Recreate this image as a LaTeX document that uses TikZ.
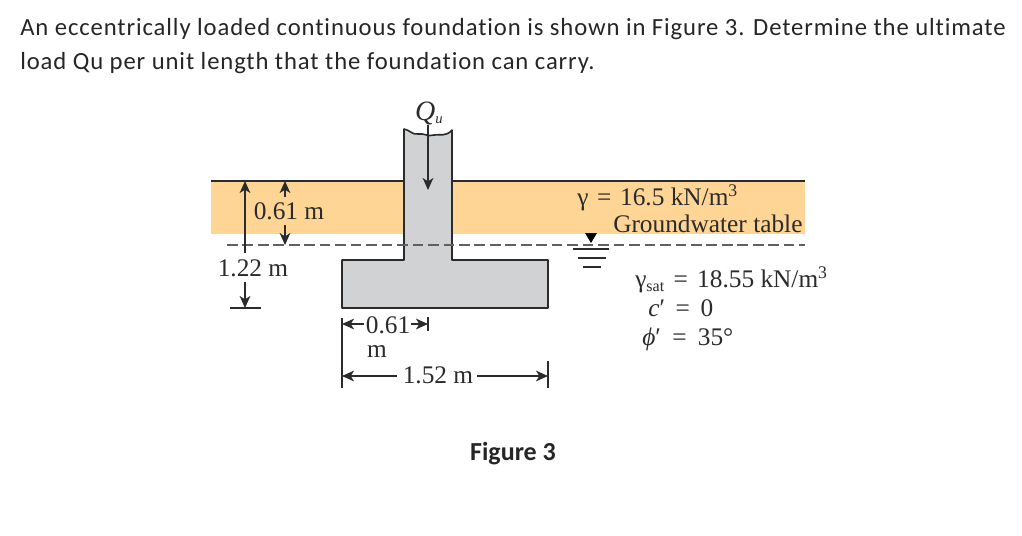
\documentclass[tikz,border=0pt]{standalone}
\usepackage{fontspec}
\setmainfont{Liberation Serif}
\newfontfamily\enonce[LetterSpace=3.6,Ligatures=NoCommon]{Carlito}
\newfontfamily\titrefig{Carlito}
\usetikzlibrary{arrows.meta}
\usetikzlibrary{calc}
\definecolor{sable}{HTML}{FFD596}
\definecolor{beton}{HTML}{D1D2D4}
\definecolor{trait}{HTML}{2B2B2B}
\newcommand{\egal}[1]{\hspace{#1}=\hspace{#1}}
\begin{document}
\begin{tikzpicture}[x=0.75pt,y=-0.75pt]
% définition des paramètres
\tikzstyle solmichael=[fill=sable,draw=none]
\tikzstyle semelle=[fill=beton,draw=trait,line width=1.2pt,line join=round]
\tikzstyle nappe=[draw=trait!75,line width=0.9pt,dash pattern=on 8pt off 3.6pt]
\tikzstyle cote=[draw=trait,line width=0.9pt]
\tikzstyle fleche=[cote,-{Stealth[length=9pt,width=8pt,inset=2.5pt]}]
\tikzstyle lbl=[inner sep=0pt,anchor=base,font=\fontsize{19}{19}\selectfont,text=trait]
\tikzstyle lblg=[lbl,anchor=base west]
\tikzstyle texte=[inner sep=0pt,anchor=base west,font=\enonce\fontsize{18.5}{18.5}\selectfont,text=black!85]
\useasboundingbox (0,0) rectangle (1022,536);
\fill[white] (0,0) rectangle (1022,536);
% l'énoncé
\node[texte] (ligneA) at (20,35) {An eccentrically loaded continuous foundation is shown in Figure 3. Determine the ultimate};
\node[texte] (ligneB) at (20,69) {load Qu per unit length that the foundation can carry.};
\node[texte,anchor=base,font=\titrefig\bfseries\fontsize{19.5}{19.5}\selectfont] (titre) at (513,460) {Figure 3};
% le sol
\fill[solmichael] (211,181) rectangle (805,234);
\draw[trait,line width=1.2pt] (211,181) -- (805,181);
% la semelle
\draw[semelle] (404,129) .. controls (410,130) and (412,135) .. (418,134) .. controls (424,133) and (428,137) .. (434,135) .. controls (440,134) and (446,137) .. (452,130)
  -- (452,260) -- (548,260) -- (548,308) -- (342,308) -- (342,260) -- (404,260) -- cycle;
% la nappe
\coordinate (nappeG) at (227,245);
\coordinate (nappeD) at (805,245);
\draw[nappe] (nappeG) -- (nappeD);
\fill[black] (585,233) -- (597,233) -- (591,243) -- cycle;
\draw[cote,line width=1.1pt] (573,249) -- (609,249);
\draw[cote,line width=1.1pt] (578,258) -- (606,258);
\draw[cote,line width=1.1pt] (583,267) -- (601,267);
% les charges
\node[lbl,font=\itshape\fontsize{21}{21}\selectfont] (Qu) at (429,120) {Q\raisebox{-0.3ex}{\fontsize{11}{11}\selectfont u}};
\coordinate (chargeH) at (428,125);
\coordinate (chargeB) at (428,190);
\draw[fleche] (chargeH) -- (chargeB);
% les cotes à gauche
\coordinate (solA) at (245,181);
\coordinate (solB) at (285,181);
\coordinate (nappeB) at (285,245);
\coordinate (baseG) at (245,308);
\node[lbl] (cotea) at (289,219) {0.61 m};
\node[lbl] (coteb) at (253,276) {1.22 m};
\draw[fleche] (245,253) -- (solA);
\draw[fleche] (245,282) -- (baseG);
\draw[fleche] (285,197) -- (solB);
\draw[fleche] (285,225) -- (nappeB);
\draw[cote] (230,308) -- (261,308);
% les cotes du bas
\coordinate (coteaG) at (342,324);
\coordinate (coteaD) at (428,324);
\coordinate (cotebG) at (342,376);
\coordinate (cotebD) at (548,376);
\draw[cote] (342,318) -- (342,388);
\draw[cote] (428,317) -- (428,331);
\draw[cote] (548,361) -- (548,388);
\node[lbl] (largA) at (388,333) {0.61};
\node[lbl] (largB) at (377,357) {m};
\node[lbl] (largC) at (438,383) {1.52 m};
\draw[fleche] (364,324) -- (coteaG);
\draw[fleche] (411,324) -- (coteaD);
\draw[fleche] (397,376) -- (cotebG);
\draw[fleche] (477,376) -- (cotebD);
% les données
\node[lblg] (gamma) at (577,205) {γ\egal{6.5pt}16.5 kN/m\textsuperscript{3}};
\node[lblg] (table) at (613,232) {Groundwater table};
\node[lblg] (gsat) at (635,287) {γ\raisebox{-0.4ex}{\fontsize{12}{12}\selectfont sat}\egal{7pt}18.55 kN/m\textsuperscript{3}};
\node[lblg] (cp) at (648,316) {\textit{c}′\egal{8pt}0};
\node[lblg] (phi) at (642,345) {\textit{ϕ}′\egal{8.5pt}35°};
\end{tikzpicture}
\end{document}
